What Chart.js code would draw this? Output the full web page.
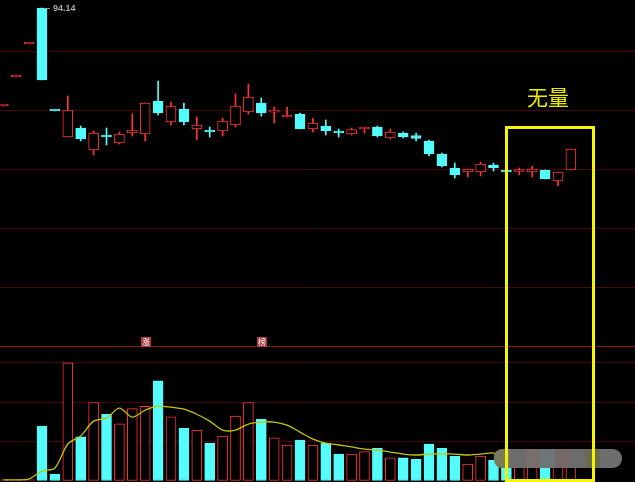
<!DOCTYPE html>
<html><head><meta charset="utf-8">
<script src="https://cdn.jsdelivr.net/npm/chart.js@4/dist/chart.umd.min.js"></script>
<style>
html,body{margin:0;padding:0;background:#000;}
#wrap{position:relative;width:635px;height:482px;overflow:hidden;background:#000;}
canvas{position:absolute;left:0;}
#sep{position:absolute;left:0;top:346px;width:635px;height:1px;background:#8a1616;}
#box{position:absolute;left:505px;top:126px;width:84px;height:350px;border:3px solid #f5f500;}
#wuliang{position:absolute;left:527px;top:86px;font:21px "Noto Sans CJK SC";color:#ecec00;line-height:1;}
.mk{position:absolute;top:337px;width:10px;height:10px;background:#a8343c;color:#fff;font:8px "Noto Sans CJK SC";line-height:10px;text-align:center;}
.blur{position:absolute;top:449px;height:19px;}
</style></head>
<body><div id="wrap">
<canvas id="pc" width="635" height="347" style="top:0"></canvas>
<canvas id="vc" width="635" height="135" style="top:347px"></canvas>
<div id="sep"></div>
<div class="mk" style="left:141px">涨</div>
<div class="mk" style="left:257px">榜</div>
<div class="blur" style="left:494px;width:16px;background:#7a7a5e;border-radius:8px 0 0 8px"></div>
<div class="blur" style="left:510px;width:15px;background:#6c6c6c"></div>
<div class="blur" style="left:525px;width:15px;background:#786e6e"></div>
<div class="blur" style="left:540px;width:15px;background:#6c7676"></div>
<div class="blur" style="left:555px;width:15px;background:#766868"></div>
<div class="blur" style="left:570px;width:15px;background:#6c6c6c"></div>
<div class="blur" style="left:585px;width:15px;background:#6a6a50"></div>
<div class="blur" style="left:600px;width:22px;background:#6e6e6e;border-radius:0 9px 9px 0"></div>
<div id="box"></div>
<div id="wuliang">无量</div>
</div>
<script>
const days = [0,1,2,3,4,5,6,7,8,9,10,11,12,13,14,15,16,17,18,19,20,21,22,23,24,25,26,27,28,29,30,31,32,33,34,35,36,37,38,39,40,41,42,43,44];
const open  = [70.77,77.68,85.55,94.14,69.58,63.37,65.52,60.27,63.37,61.94,64.33,64.09,71.96,66.95,70.05,65.28,64.57,64.81,66.24,69.34,71.48,69.30,68.14,68.86,65.28,66.00,64.33,64.09,65.28,65.76,63.14,64.33,63.73,62.42,59.32,55.98,55.03,55.03,56.70,55.03,55.15,55.03,55.50,52.88,55.50];
const high  = [70.77,77.68,85.55,94.14,69.58,73.15,66.00,64.81,65.52,64.57,68.86,71.48,76.73,71.72,71.48,68.14,65.76,67.90,73.63,76.01,72.67,70.53,70.53,69.10,67.90,67.43,65.28,65.52,65.76,66.00,65.28,64.57,64.33,62.66,59.56,57.17,55.74,57.41,57.17,55.03,55.98,56.46,55.50,55.03,60.51];
const low   = [70.77,77.68,85.55,76.97,69.58,63.37,62.42,59.08,61.47,61.70,63.61,62.42,68.62,66.24,66.24,62.66,63.37,63.61,65.76,68.86,68.38,66.71,68.14,65.28,64.57,63.85,63.37,63.85,64.33,63.37,62.90,63.14,62.42,58.84,56.22,53.59,53.83,54.07,55.27,55.03,54.31,53.83,53.36,51.69,55.50];
const close = [70.77,77.68,85.55,76.97,69.58,69.81,62.90,64.33,63.37,64.09,65.04,71.48,69.10,70.77,66.95,66.24,64.57,67.19,70.77,72.91,69.10,69.34,68.62,65.28,66.71,64.81,64.33,65.16,65.76,63.61,64.57,63.37,63.02,59.32,56.46,54.31,55.74,56.93,55.98,55.03,55.15,55.74,53.36,55.03,60.51];
const volume = [0.05,0.05,0.05,2.77,0.32,6.00,2.23,3.98,3.38,2.89,3.67,3.78,5.08,3.25,2.66,2.57,1.89,2.27,3.28,3.98,3.12,2.18,1.81,2.06,1.81,1.89,1.35,1.35,1.47,1.64,1.16,1.16,1.08,1.86,1.64,1.25,0.84,1.25,1.04,0.74,0.79,0.79,0.79,0.94,0.94];
const volMA5 = [0.03,0.03,0.08,0.48,0.64,1.86,2.27,3.03,3.18,3.69,3.23,3.59,3.79,3.74,3.64,3.38,3.03,2.57,2.57,2.88,2.98,2.98,2.82,2.47,2.11,1.91,1.81,1.71,1.60,1.55,1.45,1.35,1.30,1.35,1.35,1.35,1.30,1.35,1.40,1.20,1.10,1.00,0.92,0.88,0.88];
const priceGrid = [27.60,41.67,55.74,69.81,83.65];
const volGrid = [2,4,6];
const topLabel = '94.14';

const RED = '#ff3535', CYAN = '#54fcfc';
const up = days.map((d,i)=> close[i] > open[i] || (close[i] === open[i] && (i === 0 || close[i] >= close[i-1])));
const XMIN = -0.2558, XMAX = 48.969;
const xScale = {type:'linear', min:XMIN, max:XMAX, offset:false, display:false, bounds:'ticks'};

Chart.defaults.animation = false;
Chart.defaults.devicePixelRatio = 1;

const labelPlugin = {
  id:'toplabel',
  afterDatasetsDraw(chart){
    const ctx = chart.ctx, xs = chart.scales.x, ys = chart.scales.y;
    const i = high.indexOf(Math.max(...high));
    const px = xs.getPixelForValue(days[i]), py = ys.getPixelForValue(high[i]);
    ctx.save();
    ctx.strokeStyle = '#a0a0a0'; ctx.lineWidth = 1;
    ctx.beginPath(); ctx.moveTo(px+2, py+0.5); ctx.lineTo(px+8, py+0.5); ctx.stroke();
    ctx.fillStyle = '#a8a8a8'; ctx.font = 'bold 9px "Liberation Sans"';
    ctx.textBaseline = 'middle';
    ctx.fillText(topLabel, px+11, py+1);
    ctx.restore();
  }
};

new Chart(document.getElementById('pc'), {
  type:'bar',
  data:{datasets:[
    {data:days.map((d,i)=>({x:d,y:[open[i],close[i]]})),
     backgroundColor:days.map((d,i)=>up[i]?'#000':CYAN),
     borderColor:days.map((d,i)=>up[i]?RED:CYAN),
     borderWidth:1, borderSkipped:false, barThickness:10, minBarLength:2, grouped:false, order:0},
    {data:days.map((d,i)=>({x:d,y:[low[i],high[i]]})),
     backgroundColor:days.map((d,i)=>up[i]?RED:CYAN),
     borderWidth:0, barThickness:1, grouped:false, order:1}
  ]},
  options:{
    responsive:false, animation:false,
    layout:{padding:0},
    plugins:{legend:{display:false}, tooltip:{enabled:false}},
    scales:{
      x:xScale,
      y:{min:13.29, max:96.05, display:true,
         afterBuildTicks:s=>{s.ticks = priceGrid.map(v=>({value:v}));},
         afterFit:s=>{s.width=0;},
         ticks:{display:false}, border:{display:false},
         grid:{color:'#480505', drawTicks:false, lineWidth:1}}
    }
  },
  plugins:[labelPlugin]
});

new Chart(document.getElementById('vc'), {
  type:'bar',
  data:{datasets:[
    {type:'line', data:days.map((d,i)=>({x:d,y:volMA5[i]})),
     borderColor:'#c4c400', borderWidth:1.3, pointRadius:0, tension:0.3, order:0},
    {data:days.map((d,i)=>({x:d,y:volume[i]})),
     backgroundColor:days.map((d,i)=>up[i]?'#000':CYAN),
     borderColor:days.map((d,i)=>up[i]?RED:CYAN),
     borderWidth:1, borderSkipped:false, barThickness:10, grouped:false, order:1}
  ]},
  options:{
    responsive:false, animation:false,
    layout:{padding:0},
    plugins:{legend:{display:false}, tooltip:{enabled:false}},
    scales:{
      x:xScale,
      y:{min:-0.077, max:6.81, display:true,
         afterBuildTicks:s=>{s.ticks = volGrid.map(v=>({value:v}));},
         afterFit:s=>{s.width=0;},
         ticks:{display:false}, border:{display:false},
         grid:{color:'#480505', drawTicks:false, lineWidth:1}}
    }
  }
});
</script>
</body></html>
